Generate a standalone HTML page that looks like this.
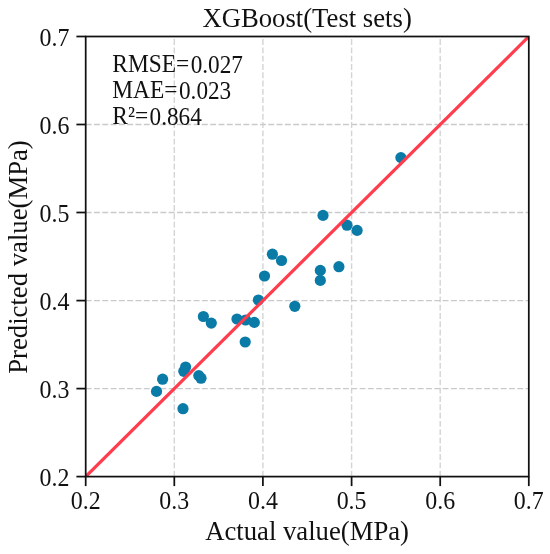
<!DOCTYPE html>
<html><head><meta charset="utf-8"><title>XGBoost(Test sets)</title>
<style>
html,body{margin:0;padding:0;background:#fff;}
svg{display:block}
text{font-family:"Liberation Serif","Times New Roman",serif;fill:#111;}
.tk{font-size:25.2px}
.lb{font-size:26.7px}
.an{font-size:24.4px}
.ad{font-size:25.4px}
</style></head><body>
<svg width="550" height="554" viewBox="0 0 550 554">
<rect width="550" height="554" fill="#fff"/>
<defs><clipPath id="ax"><rect x="85.7" y="36.5" width="443.1" height="440.1"/></clipPath></defs>
<g stroke-width="1.4" stroke-dasharray="5.9 2.4" fill="none">
<line stroke="#d4d4d4" x1="174.3" y1="476.6" x2="174.3" y2="36.5"/>
<line stroke="#d4d4d4" x1="262.9" y1="476.6" x2="262.9" y2="36.5"/>
<line stroke="#d4d4d4" x1="351.6" y1="476.6" x2="351.6" y2="36.5"/>
<line stroke="#d4d4d4" x1="440.2" y1="476.6" x2="440.2" y2="36.5"/>
<line stroke="#cacaca" x1="85.7" y1="388.6" x2="528.8" y2="388.6"/>
<line stroke="#cacaca" x1="85.7" y1="300.6" x2="528.8" y2="300.6"/>
<line stroke="#cacaca" x1="85.7" y1="212.5" x2="528.8" y2="212.5"/>
<line stroke="#cacaca" x1="85.7" y1="124.5" x2="528.8" y2="124.5"/>
</g>
<g fill="#0a7aa7">
<circle cx="156.5" cy="391.4" r="5.6"/>
<circle cx="162.6" cy="379.2" r="5.6"/>
<circle cx="183" cy="408.7" r="5.6"/>
<circle cx="183.8" cy="371.3" r="5.6"/>
<circle cx="185.6" cy="367" r="5.6"/>
<circle cx="198.8" cy="375.6" r="5.6"/>
<circle cx="201" cy="378.2" r="5.6"/>
<circle cx="203.4" cy="316.5" r="5.6"/>
<circle cx="211.3" cy="323.1" r="5.6"/>
<circle cx="237" cy="319" r="5.6"/>
<circle cx="245.6" cy="320" r="5.6"/>
<circle cx="254.3" cy="322.4" r="5.6"/>
<circle cx="245.2" cy="342" r="5.6"/>
<circle cx="258.4" cy="300" r="5.6"/>
<circle cx="264.5" cy="276" r="5.6"/>
<circle cx="272.4" cy="254.2" r="5.6"/>
<circle cx="281.5" cy="260.5" r="5.6"/>
<circle cx="294.8" cy="306.3" r="5.6"/>
<circle cx="320.3" cy="270.4" r="5.6"/>
<circle cx="320.3" cy="280.4" r="5.6"/>
<circle cx="338.9" cy="266.7" r="5.6"/>
<circle cx="323" cy="215.4" r="5.6"/>
<circle cx="347" cy="225.2" r="5.6"/>
<circle cx="357.1" cy="230.4" r="5.6"/>
<circle cx="400.9" cy="157.6" r="5.6"/>
</g>
<line x1="85.7" y1="476.6" x2="528.8" y2="36.5" stroke="#ff3d4d" stroke-width="3.2" clip-path="url(#ax)"/>
<g stroke="#111" stroke-width="1.75" fill="none">
<line x1="85.7" y1="476.6" x2="85.7" y2="486.1"/>
<line x1="174.3" y1="476.6" x2="174.3" y2="486.1"/>
<line x1="262.9" y1="476.6" x2="262.9" y2="486.1"/>
<line x1="351.6" y1="476.6" x2="351.6" y2="486.1"/>
<line x1="440.2" y1="476.6" x2="440.2" y2="486.1"/>
<line x1="528.8" y1="476.6" x2="528.8" y2="486.1"/>
<line x1="76.4" y1="476.6" x2="85.7" y2="476.6"/>
<line x1="76.4" y1="388.6" x2="85.7" y2="388.6"/>
<line x1="76.4" y1="300.6" x2="85.7" y2="300.6"/>
<line x1="76.4" y1="212.5" x2="85.7" y2="212.5"/>
<line x1="76.4" y1="124.5" x2="85.7" y2="124.5"/>
<line x1="76.4" y1="36.5" x2="85.7" y2="36.5"/>
<rect x="85.7" y="36.5" width="443.1" height="440.1"/>
</g>
<text class="tk" transform="translate(85.7 508.9) scale(0.95 1)" text-anchor="middle">0.2</text>
<text class="tk" transform="translate(174.3 508.9) scale(0.95 1)" text-anchor="middle">0.3</text>
<text class="tk" transform="translate(262.9 508.9) scale(0.95 1)" text-anchor="middle">0.4</text>
<text class="tk" transform="translate(351.6 508.9) scale(0.95 1)" text-anchor="middle">0.5</text>
<text class="tk" transform="translate(440.2 508.9) scale(0.95 1)" text-anchor="middle">0.6</text>
<text class="tk" transform="translate(528.8 508.9) scale(0.95 1)" text-anchor="middle">0.7</text>
<text class="tk" transform="translate(69.4 485.9) scale(0.95 1)" text-anchor="end">0.2</text>
<text class="tk" transform="translate(69.4 397.9) scale(0.95 1)" text-anchor="end">0.3</text>
<text class="tk" transform="translate(69.4 309.9) scale(0.95 1)" text-anchor="end">0.4</text>
<text class="tk" transform="translate(69.4 221.8) scale(0.95 1)" text-anchor="end">0.5</text>
<text class="tk" transform="translate(69.4 133.8) scale(0.95 1)" text-anchor="end">0.6</text>
<text class="tk" transform="translate(69.4 45.8) scale(0.95 1)" text-anchor="end">0.7</text>
<text class="lb" x="307.1" y="26.8" text-anchor="middle">XGBoost(Test sets)</text>
<text class="lb" x="307.1" y="539.6" text-anchor="middle">Actual value(MPa)</text>
<text class="lb" transform="translate(27 257) rotate(-90)" text-anchor="middle">Predicted value(MPa)</text>
<text class="an" transform="translate(112.3 72.1) scale(0.96 1)">RMSE=</text>
<text class="ad" transform="translate(190.69 72.7) scale(0.915 1)">0.027</text>
<text class="an" transform="translate(112.3 98.1) scale(0.96 1)">MAE=</text>
<text class="ad" transform="translate(178.96 98.7) scale(0.915 1)">0.023</text>
<text class="an" transform="translate(112.3 124.1) scale(0.96 1)">R²=</text>
<text class="ad" transform="translate(149.56 124.7) scale(0.915 1)">0.864</text>
</svg></body></html>
